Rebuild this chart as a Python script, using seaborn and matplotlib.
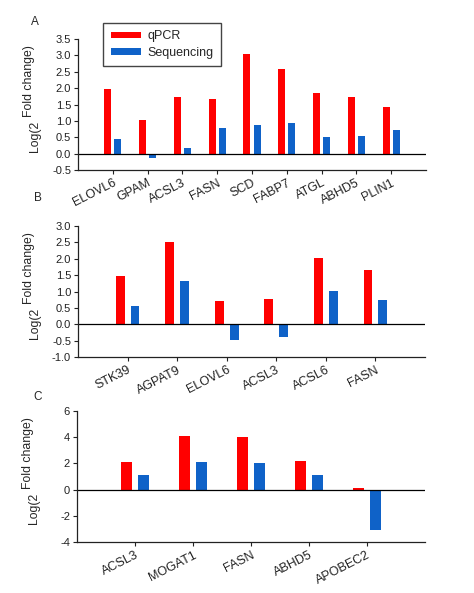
import numpy as np
import pandas as pd
import matplotlib
matplotlib.use('Agg')
import matplotlib.pyplot as plt
import seaborn as sns

# panel A
genes_a = ['ELOVL6', 'GPAM', 'ACSL3', 'FASN', 'SCD', 'FABP7', 'ATGL', 'ABHD5', 'PLIN1']
qpcr_a = [1.97, 1.04, 1.73, 1.68, 3.03, 2.57, 1.84, 1.73, 1.43]
seq_a = [0.46, -0.12, 0.18, 0.77, 0.86, 0.92, 0.50, 0.53, 0.71]

# panel B
genes_b = ['STK39', 'AGPAT9', 'ELOVL6', 'ACSL3', 'ACSL6', 'FASN']
qpcr_b = [1.48, 2.51, 0.71, 0.77, 2.01, 1.67]
seq_b = [0.56, 1.33, -0.49, -0.39, 1.02, 0.74]

# panel C
genes_c = ['ACSL3', 'MOGAT1', 'FASN', 'ABHD5', 'APOBEC2']
qpcr_c = [2.12, 4.11, 4.01, 2.17, 0.15]
seq_c = [1.10, 2.07, 2.02, 1.12, -3.07]

methods = ['qPCR', 'Sequencing']
red = '#ff0000'
blue = '#0f62c8'

sns.set_style('white')
plt.rcParams['font.family'] = ['Liberation Sans', 'DejaVu Sans']


def long_df(genes, qpcr, seq):
    df = pd.DataFrame({'gene': genes, 'qPCR': qpcr, 'Sequencing': seq})
    return df.melt(id_vars='gene', var_name='method', value_name='value')


fig = plt.figure(figsize=(4.74, 5.93), dpi=100)
ax_a = fig.add_axes([78/474, 1-170/593, 348/474, 131/593])
ax_b = fig.add_axes([78/474, 1-357/593, 347/474, 131/593])
ax_c = fig.add_axes([77/474, 1-542/593, 348/474, 131/593])

panels = [
    (ax_a, genes_a, qpcr_a, seq_a, (-0.5, 3.5), np.arange(-0.5, 3.51, 0.5), 0.58, 0.31, '%.1f'),
    (ax_b, genes_b, qpcr_b, seq_b, (-1.0, 3.0), np.arange(-1.0, 3.01, 0.5), 0.6, 0.4, '%.1f'),
    (ax_c, genes_c, qpcr_c, seq_c, (-4, 6), np.arange(-4, 6.1, 2), 0.6, 0.4, '%d'),
]

for i, (ax, genes, q, s, ylim, yt, w, g, fmt) in enumerate(panels):
    df = long_df(genes, q, s)
    sns.barplot(data=df, x='gene', y='value', hue='method', hue_order=methods,
                palette=[red, blue], width=w, gap=g, linewidth=0,
                saturation=1, ax=ax, legend=(i == 0))
    ax.set_xlim(-1, len(genes))
    ax.set_ylim(*ylim)
    ax.set_yticks(yt)
    ax.set_yticklabels([fmt % v for v in yt])
    ax.axhline(0, color='black', lw=0.9)
    for sp in ['top', 'right']:
        ax.spines[sp].set_visible(False)
    for sp in ['left', 'bottom']:
        ax.spines[sp].set_color('#222222')
        ax.spines[sp].set_linewidth(0.9)
    ax.tick_params(axis='both', bottom=True, left=True, direction='out',
                   length=3, width=0.8, colors='#222222')
    ax.tick_params(axis='y', labelsize=8, pad=2)
    ax.tick_params(axis='x', labelsize=9, pad=2)
    plt.setp(ax.get_xticklabels(), rotation=27, ha='right', rotation_mode='anchor')
    ax.set_xlabel('')
    ax.set_ylabel('')
    # the y label is drawn in two pieces, the second one raised
    ax.text(-0.124, 0.375, 'Log(2', rotation=90, fontsize=8.8,
            ha='center', va='top', transform=ax.transAxes)
    ax.text(-0.140, 0.405, 'Fold change)', rotation=90, fontsize=8.8,
            ha='center', va='bottom', transform=ax.transAxes)

handles, labels = ax_a.get_legend_handles_labels()
ax_a.legend(handles, labels, loc='upper left', bbox_to_anchor=(103/474, 1-23/593),
            bbox_transform=fig.transFigure, borderaxespad=0, fontsize=9,
            handlelength=2.4, handleheight=0.45, handletextpad=0.55,
            labelspacing=0.35, borderpad=0.6, frameon=True, fancybox=False,
            edgecolor='#444444', framealpha=1)

fig.text(35/474, 1-22/593, 'A', fontsize=8.5, ha='center', va='center')
fig.text(38/474, 1-198/593, 'B', fontsize=8.5, ha='center', va='center')
fig.text(38/474, 1-397/593, 'C', fontsize=8.5, ha='center', va='center')

fig.savefig('out.png', dpi=100)
